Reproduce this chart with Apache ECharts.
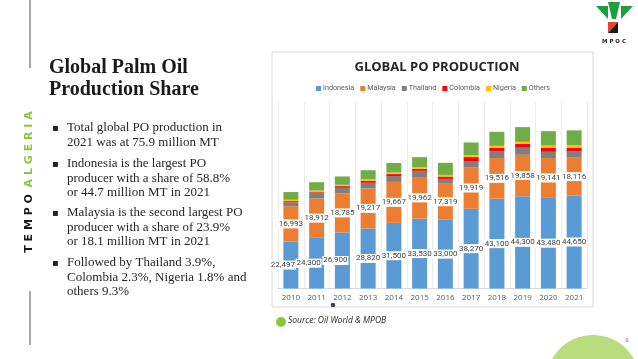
<!DOCTYPE html>
<html>
<head>
<meta charset="utf-8">
<script src="https://cdn.jsdelivr.net/npm/echarts@6/dist/echarts.min.js"></script>
<style>
html,body{margin:0;padding:0;background:#fff;}
#c{width:638px;height:359px;}
</style>
</head>
<body>
<div id="c"></div>
<script>
// ---- data ----
const years = ['2010','2011','2012','2013','2014','2015','2016','2017','2018','2019','2020','2021'];
const indonesia = [22497,24300,26900,28820,31500,33530,33000,38270,43100,44300,43480,44650];
const malaysia  = [16993,18912,18785,19217,19667,19962,17319,19919,19516,19858,19141,18116];
const thailand  = [1850,2350,2650,2700,2800,3000,2300,3000,3150,3400,3000,2960];
const colombia  = [600,650,800,950,950,950,1100,1900,1750,1900,1900,1750];
const nigeria   = [650,800,650,800,800,800,800,950,950,950,1100,1370];
const others    = [3700,4000,4000,4300,4500,4800,5800,6050,6750,7050,6900,7060];
const seriesNames = ['Indonesia','Malaysia','Thailand','Colombia','Nigeria','Others'];

const titleLines = ['Global Palm Oil','Production Share'];
const bullets = [
  ['Total global PO production in','2021 was at 75.9 million MT'],
  ['Indonesia is the largest PO','producer with a share of 58.8%','or 44.7 million MT in 2021'],
  ['Malaysia is the second largest PO','producer with a share of 23.9%','or 18.1 million MT in 2021'],
  ['Followed by Thailand 3.9%,','Colombia 2.3%, Nigeria 1.8% and','others 9.3%']
];

// ---- chart ----
const colors = ['#5b9bd5','#ed7d31','#7f7f7f','#ff0000','#ffc000','#70ad47'];
const values = [indonesia, malaysia, thailand, colombia, nigeria, others];
const labelFont = '"Roboto", sans-serif';
const fmt = v => Number(v).toLocaleString('en-US');
const indoShift = [-8,-8,-7,0,0,0,0,0,0,0,0,0];

const series = seriesNames.map((name, i) => {
  const s = {
    name, type:'bar', stack:'total', barWidth:15,
    itemStyle:{color:colors[i]},
    data: values[i].map((v, j) => {
      const d = {value:v};
      if (i === 0 && indoShift[j]) d.label = {offset:[indoShift[j],0]};
      return d;
    })
  };
  if (i < 2) {
    s.label = {
      show:true, position:'inside', formatter: p => fmt(p.value),
      color:'#404040', fontSize:8, fontFamily:labelFont, overflow:'none',
      backgroundColor:'#ffffff', padding:[1,1,0,1]
    };
  }
  return s;
});

const g = [];
// chart frame
g.push({type:'rect', z:-10, shape:{x:272,y:52,width:321,height:255}, style:{fill:'#fff', stroke:'#d9d9d9', lineWidth:1}});
// left vertical lines
g.push({type:'line', shape:{x1:30,y1:0,x2:30,y2:68}, style:{stroke:'#555', lineWidth:1}});
g.push({type:'line', shape:{x1:30,y1:291,x2:30,y2:345}, style:{stroke:'#555', lineWidth:1}});
// vertical brand text
g.push({type:'text', x:29, y:182, rotation:Math.PI/2, style:{
  text:'{a|T E M P O}  {b|A L G E R I A}', align:'center', verticalAlign:'middle',
  rich:{a:{font:'bold 11px "DejaVu Sans", sans-serif', fill:'#1a1a1a'}, b:{font:'bold 11px "DejaVu Sans", sans-serif', fill:'#8cc63e'}}
}});
// slide title
titleLines.forEach((t, i) => g.push({type:'text', x:49, y:[68,90][i], style:{
  text:t, font:'bold 20px "Liberation Serif", serif', fill:'#1a1a1a', align:'left', verticalAlign:'middle'}}));
// bullets
const paraStart = [128, 164, 213, 263];
bullets.forEach((lines, p) => {
  g.push({type:'text', x:52, y:paraStart[p], style:{text:'▪', font:'10px "DejaVu Sans", sans-serif', fill:'#222', align:'left', verticalAlign:'middle'}});
  lines.forEach((t, k) => g.push({type:'text', x:67, y:paraStart[p] + k*14.3, style:{
    text:t, font:'13px "Liberation Serif", serif', fill:'#262626', align:'left', verticalAlign:'middle'}}));
});
// source
g.push({type:'circle', shape:{cx:281,cy:322,r:5}, style:{fill:'#8cc63e'}});
g.push({type:'circle', shape:{cx:333,cy:305,r:2.3}, style:{fill:'#37474f'}});
g.push({type:'text', x:288, y:321, style:{text:'Source: Oil World & MPOB', font:'italic 8.5px "Open Sans", sans-serif', fill:'#262626', align:'left', verticalAlign:'middle'}});
// bottom-right deco circle
g.push({type:'circle', z:-20, shape:{cx:593,cy:382,r:47}, style:{fill:'#b9dc7c'}});
g.push({type:'text', x:627, y:340, style:{text:'9', font:'6px sans-serif', fill:'#777', align:'center', verticalAlign:'middle'}});
// logo
g.push({type:'polygon', shape:{points:[[596,6],[608,6],[608,19]]}, style:{fill:'#1e9e3e'}});
g.push({type:'polygon', shape:{points:[[608,2],[620,2],[616,19],[612,19]]}, style:{fill:'#1e9e3e'}});
g.push({type:'polygon', shape:{points:[[633,6],[621,6],[621,19]]}, style:{fill:'#1e9e3e'}});
g.push({type:'polygon', shape:{points:[[608,22],[618,22],[608,33]]}, style:{fill:'#e8412c'}});
g.push({type:'polygon', shape:{points:[[618,22],[618,33],[608,33]]}, style:{fill:'#1a1a1a'}});
g.push({type:'text', x:614, y:42, style:{text:'M P O C', font:'bold 5.5px "DejaVu Sans", sans-serif', fill:'#222', align:'center', verticalAlign:'middle'}});

const chart = echarts.init(document.getElementById('c'), null, {renderer:'canvas'});
chart.setOption({
  animation:false,
  color: colors,
  title:{text:'GLOBAL PO PRODUCTION', left:432, top:56, textAlign:'center',
    textStyle:{fontFamily:'"Open Sans", sans-serif', fontWeight:'bold', fontSize:13, color:'#262626'}},
  legend:{data:seriesNames, top:80, left:311, itemWidth:5, itemHeight:5, itemGap:6,
    icon:'rect', textStyle:{fontSize:7.2, color:'#595959', fontFamily:labelFont, padding:[0,0,0,-3]}},
  grid:{left:278, right:51, top:101, bottom:70.5},
  xAxis:{type:'category', data:years,
    axisLine:{lineStyle:{color:'#d9d9d9'}}, axisTick:{show:false},
    axisLabel:{color:'#595959', fontSize:8, margin:5, fontFamily:'"Open Sans", sans-serif'},
    splitLine:{show:true, lineStyle:{color:'#ececec'}}},
  yAxis:{type:'value', min:0, max:90000, show:false, splitLine:{show:false}},
  series,
  graphic: g
});
</script>
</body>
</html>
